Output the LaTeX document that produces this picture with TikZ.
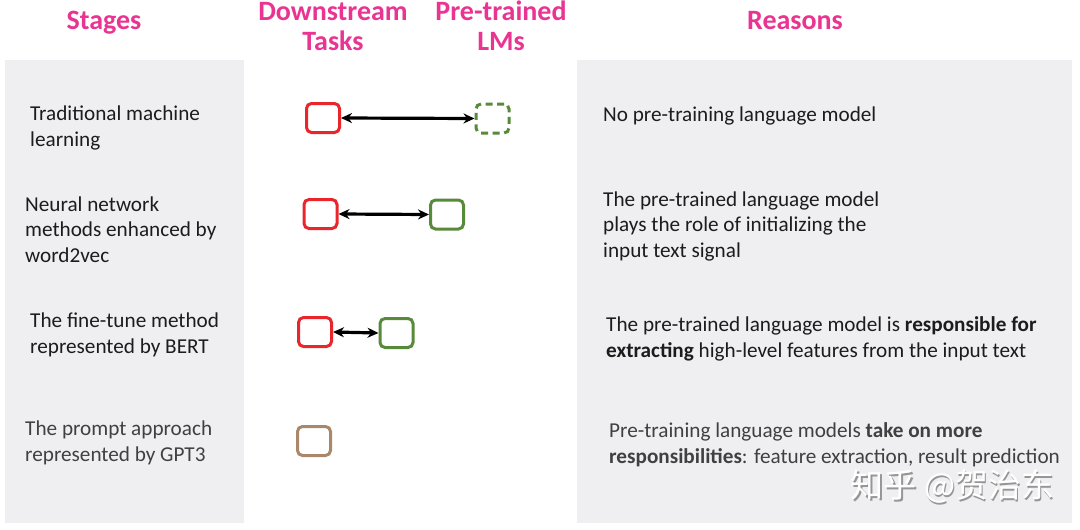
\documentclass[tikz,border=0pt]{standalone}
\usepackage{fontspec}
\setmainfont{Carlito}
\newfontfamily\cjk{Noto Sans CJK SC}
\usetikzlibrary{arrows.meta}
\definecolor{headpink}{RGB}{234,52,146}
\definecolor{panelgrey}{RGB}{239,239,241}
\definecolor{boxred}{RGB}{232,38,44}
\definecolor{boxgreen}{RGB}{88,138,60}
\definecolor{boxbrown}{RGB}{168,136,104}
\definecolor{textdark}{RGB}{28,28,28}
\definecolor{textgrey}{RGB}{64,64,64}
\definecolor{shadowgrey}{RGB}{150,150,150}
\tikzset{
  head/.style={font=\fontsize{28}{30}\selectfont\bfseries, text=headpink, align=center, inner sep=0, anchor=base},
  body/.style={font=\fontsize{21.2}{25.5}\selectfont, text=textdark, align=left, inner sep=0, anchor=base west},
  tbox/.style={line width=3pt, rounded corners=5pt, minimum width=33pt, minimum height=29pt, inner sep=0, fill=white},
  link/.style={draw=black, line width=3.2pt, {Stealth[length=11pt,width=10pt]}-{Stealth[length=11pt,width=10pt]}}
}
\begin{document}
\begin{tikzpicture}[x=1pt,y=-1pt]
\useasboundingbox (0,0) rectangle (1080,530);
\fill[white] (0,0) rectangle (1080,530);
% panels
\fill[panelgrey] (5,60) rectangle (244,523);
\fill[panelgrey] (577,60) rectangle (1072,523);
% headings (anchor = baseline of last line)
\node[head] (hstages) at (104,30) {Stages};
\node[head] (hdown) at (333,50) {Downstream\\Tasks};
\node[head] (hpre) at (501,50) {Pre-trained\\LMs};
\node[head] (hreasons) at (795,30) {Reasons};
% stages (anchor = baseline of last line)
\node[body] (s1) at (30,146) {Traditional machine\\learning};
\node[body] (s2) at (25,262) {Neural network\\methods enhanced by\\word2vec};
\node[body] (s3) at (30,353) {The fine-tune method\\represented by BERT};
\node[body, text=textgrey] (s4) at (25,461) {The prompt approach\\represented by GPT3};
% reasons
\node[body] (r1) at (603,121) {No pre-training language model};
\node[body] (r2) at (603,257) {The pre-trained language model\\plays the role of initializing the\\input text signal};
\node[body] (r3) at (606,357) {The pre-trained language model is \textbf{responsible for}\\\textbf{extracting} high-level features from the input text};
\node[body, text=textgrey] (r4) at (609,463) {Pre-training language models \textbf{take on more}\\\textbf{responsibilities}: feature extraction, result prediction};
% boxes
\node[tbox, draw=boxred] (d1) at (323,118) {};
\node[tbox, draw=boxgreen, dash pattern=on 7pt off 4.5pt] (p1) at (492.5,118.5) {};
\node[tbox, draw=boxred] (d2) at (320.5,214) {};
\node[tbox, draw=boxgreen] (p2) at (447,214.5) {};
\node[tbox, draw=boxred] (d3) at (315,332) {};
\node[tbox, draw=boxgreen] (p3) at (396.5,333) {};
\node[tbox, draw=boxbrown] (d4) at (314,441) {};
% connectors
\draw[link] (d1.east) -- (p1.west);
\draw[link] (d2.east) -- (p2.west);
\draw[link] (d3.east) -- (p3.west);
% watermark
\node[font=\cjk\fontsize{33}{35}\selectfont, text=shadowgrey, anchor=base west, inner sep=0] (wms) at (852,499) {知乎 @贺治东};
\node[font=\cjk\fontsize{33}{35}\selectfont, text=white, anchor=base west, inner sep=0] (wm) at (850.5,497.5) {知乎 @贺治东};
\end{tikzpicture}
\end{document}
